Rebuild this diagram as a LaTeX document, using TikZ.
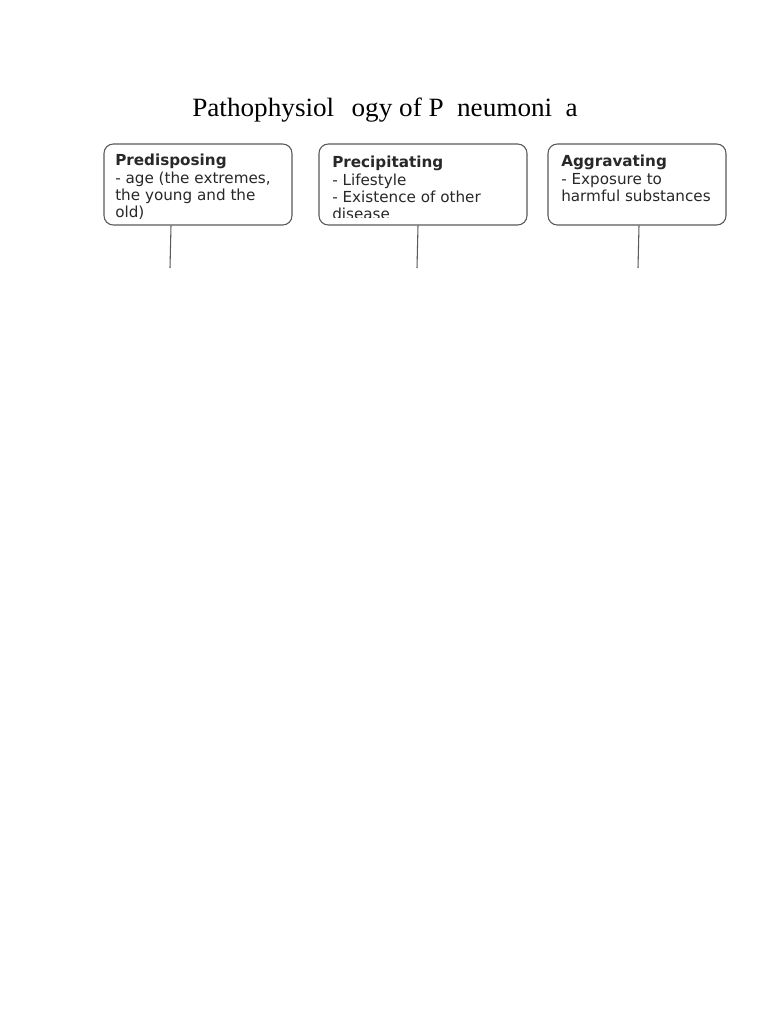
\documentclass[tikz,border=0pt]{standalone}
\usepackage{fontspec}
\setmainfont{Liberation Serif}
\newfontfamily\titlefont[FakeStretch=1.03]{Liberation Serif}
\newfontfamily\boxfont{DejaVu Sans}
\definecolor{boxgray}{RGB}{90, 90, 90}
\definecolor{textgray}{RGB}{40, 40, 40}
\usetikzlibrary{positioning, calc}
\tikzset{
  factorbox/.style={draw=boxgray, line width=0.8pt, rounded corners=7pt, inner sep=0pt},
  factortext/.style={anchor=north west, inner sep=0pt, align=left, text=textgray,
    font=\boxfont\fontsize{11.4pt}{12.9pt}\selectfont},
  stem/.style={draw=boxgray, line width=0.8pt}
}
\begin{document}
\begin{tikzpicture}[x=0.75pt, y=-0.75pt]
  \useasboundingbox[fill=white] (0,0) rectangle (768,1024);

  % Title
  \node[font=\titlefont\fontsize{19.8pt}{22pt}\selectfont, anchor=base west, inner sep=0pt] (title) at (192,116)
    {Pathophysiol\hspace{13pt}ogy of P\hspace{10pt}neumoni\hspace{10pt}a};

  % Three factor boxes
  \node[factorbox, minimum width=188*0.75pt, minimum height=81*0.75pt] (pre) at (198,184.5) {};
  \node[factorbox, minimum width=208*0.75pt, minimum height=81*0.75pt] (prec) at (423,184.5) {};
  \node[factorbox, minimum width=178*0.75pt, minimum height=81*0.75pt] (aggr) at (637,184.5) {};

  % Box texts (clipped to the boxes)
  \begin{scope}
    \clip ($(pre.north west)+(2,2)$) rectangle ($(pre.south east)+(-2,-2)$);
    \node[factortext] (pretext) at (115,154) {\textbf{Predisposing}\\- age (the extremes,\\the young and the\\old)};
  \end{scope}
  \begin{scope}
    \clip ($(prec.north west)+(2,2)$) rectangle ($(prec.south east)+(-2,-8)$);
    \node[factortext] (prectext) at (332,156) {\textbf{Precipitating}\\- Lifestyle\\- Existence of other\\disease};
  \end{scope}
  \begin{scope}
    \clip ($(aggr.north west)+(2,2)$) rectangle ($(aggr.south east)+(-2,-2)$);
    \node[factortext] (aggrtext) at (561,155) {\textbf{Aggravating}\\- Exposure to\\harmful substances};
  \end{scope}

  % Stems below the boxes
  \coordinate (preend) at (170,268);
  \coordinate (precend) at (417,268);
  \coordinate (aggrend) at (638,268);
  \draw[stem] (pre.south -| 171,0) -- (preend);
  \draw[stem] (prec.south -| 418,0) -- (precend);
  \draw[stem] (aggr.south -| 639,0) -- (aggrend);
\end{tikzpicture}
\end{document}
